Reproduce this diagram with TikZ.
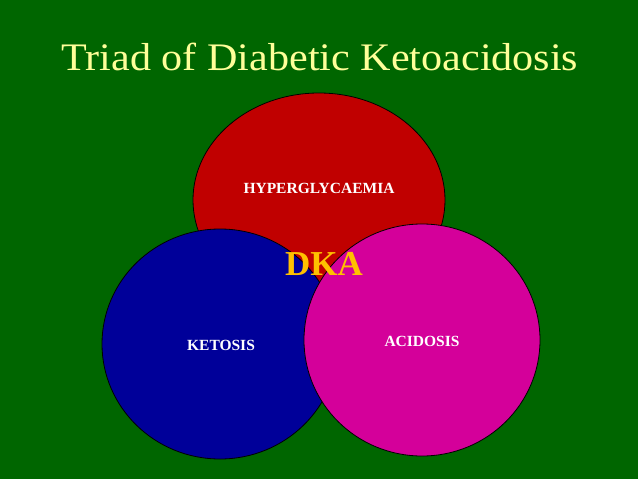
\documentclass[tikz,border=0pt]{standalone}
\usepackage{fontspec}
\setmainfont{Liberation Serif}
\usetikzlibrary{shapes.geometric}
\definecolor{bggreen}{HTML}{006600}
\definecolor{hyperred}{HTML}{C00000}
\definecolor{ketoblue}{HTML}{000099}
\definecolor{acidpink}{HTML}{D4009A}
\definecolor{titleyellow}{HTML}{FFFF99}
\definecolor{dkagold}{HTML}{FFC000}
\tikzset{
  blob/.style={ellipse, draw=black, line width=0.8pt},
  tag/.style={text=white, font=\bfseries\fontsize{15.5}{18}\selectfont}
}
\begin{document}
\begin{tikzpicture}[x=1pt, y=-1pt]
  \fill[bggreen] (0, 0) rectangle (638, 479);
  \useasboundingbox (0, 0) rectangle (638, 479);
  \node[text=titleyellow, font=\fontsize{39}{44}\selectfont, xscale=1.08] (title) at (320, 57) {Triad of Diabetic Ketoacidosis};
  \node[blob, fill=hyperred, minimum width=252pt, minimum height=214pt] (hypercirc) at (319, 200) {};
  \node[blob, fill=ketoblue, minimum width=236pt, minimum height=230pt] (ketocirc) at (220, 344) {};
  \node[blob, fill=acidpink, minimum width=236pt, minimum height=232pt] (acidcirc) at (422, 340) {};
  \node[tag] (hyper) at (319, 188) {HYPERGLYCAEMIA};
  \node[tag] (ketosis) at (221, 345) {KETOSIS};
  \node[tag] (acidosis) at (422, 341) {ACIDOSIS};
  \node[text=dkagold, font=\bfseries\fontsize{35}{40}\selectfont] (dka) at (324, 264) {DKA};
\end{tikzpicture}
\end{document}
